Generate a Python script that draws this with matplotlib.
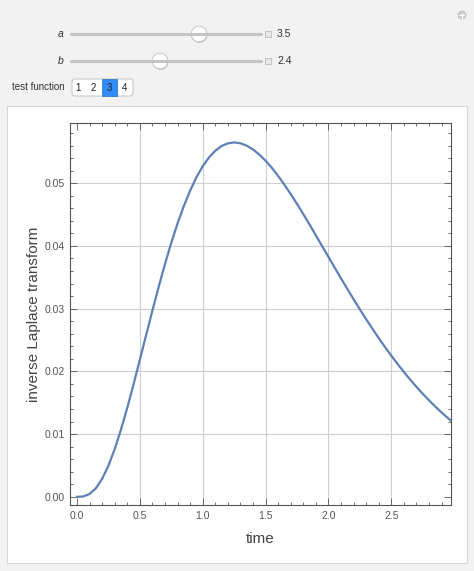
import matplotlib
matplotlib.use("Agg")
import matplotlib.pyplot as plt
from matplotlib.patches import Rectangle, FancyBboxPatch, Circle

plt.rcParams['font.family'] = ['Liberation Sans', 'DejaVu Sans']

# values
time = [0.0, 0.05, 0.1, 0.15, 0.2, 0.25, 0.3, 0.35, 0.4, 0.45, 0.5, 0.55, 0.6, 0.65,
        0.7, 0.75, 0.8, 0.85, 0.9, 0.95, 1.0, 1.05, 1.1, 1.15, 1.2, 1.25, 1.3, 1.35,
        1.4, 1.45, 1.5, 1.55, 1.6, 1.65, 1.7, 1.75, 1.8, 1.85, 1.9, 1.95, 2.0, 2.05,
        2.1, 2.15, 2.2, 2.25, 2.3, 2.35, 2.4, 2.45, 2.5, 2.55, 2.6, 2.65, 2.7, 2.75,
        2.8, 2.85, 2.9, 2.97]
inv_laplace = [0.0, 0.00006, 0.00046, 0.00137, 0.00288, 0.00498, 0.00764, 0.01075,
               0.01424, 0.01798, 0.0219, 0.02582, 0.02973, 0.03352, 0.03714, 0.04052,
               0.04361, 0.04639, 0.04883, 0.05096, 0.05271, 0.05411, 0.05518, 0.05593,
               0.05636, 0.0565, 0.05637, 0.05598, 0.05538, 0.05457, 0.05358, 0.05245,
               0.05115, 0.04975, 0.04826, 0.04671, 0.04507, 0.04341, 0.04169, 0.03997,
               0.03826, 0.03653, 0.03483, 0.03316, 0.0315, 0.02989, 0.02832, 0.0268,
               0.02531, 0.02388, 0.0225, 0.02118, 0.01991, 0.01869, 0.01754, 0.01643,
               0.01539, 0.01439, 0.01345, 0.01221]
x_ticks = [0.0, 0.5, 1.0, 1.5, 2.0, 2.5]
y_ticks = [0.00, 0.01, 0.02, 0.03, 0.04, 0.05]
a_val, b_val = 3.5, 2.4
buttons = ['1', '2', '3', '4']
selected = '3'

W, H = 474, 571
fig = plt.figure(figsize=(W / 100, H / 100), dpi=100)
fig.patch.set_facecolor('#f2f2f2')

# overlay in pixel coordinates for the control panel
ui = fig.add_axes([0, 0, 1, 1])
ui.set_xlim(0, W)
ui.set_ylim(H, 0)
ui.axis('off')

ui.add_patch(Rectangle((7, 106), 460, 457, facecolor='white', edgecolor='#d6d6d6', lw=0.8))

# sliders
for lab, yy, kx, val in [('a', 34, 199, a_val), ('b', 61, 160, b_val)]:
    ui.text(61, yy, lab, style='italic', fontsize=7.5, ha='center', va='center', color='#333333')
    ui.plot([71, 261], [yy, yy], color='#c4c4c4', lw=2.2, solid_capstyle='round')
    ui.add_patch(Circle((kx + 0.6, yy + 1), 8, facecolor='#cfcfcf', edgecolor='none'))
    ui.add_patch(Circle((kx, yy), 7.8, facecolor='white', edgecolor='#c0c0c0', lw=0.6))
    ui.add_patch(Rectangle((265, yy - 3), 6, 6, facecolor='#e8e8e8', edgecolor='#b0b0b0', lw=0.5))
    ui.text(277, yy, str(val), fontsize=7.5, ha='left', va='center', color='#333333')

ui.text(12, 87, 'test function', fontsize=7, ha='left', va='center', color='#333333')
ui.add_patch(FancyBboxPatch((72, 79), 61, 17, boxstyle='round,pad=0,rounding_size=3',
                            facecolor='white', edgecolor='#c4c4c4', lw=0.7))
for i, bt in enumerate(buttons):
    cx = 78 + i * 15.5
    if bt == selected:
        ui.add_patch(Rectangle((cx - 7, 79), 15, 17, facecolor='#2f8df5', edgecolor='#1f6fd0', lw=0.5))
    ui.text(cx, 88, bt, fontsize=7, ha='center', va='center', color='#222222')

ui.add_patch(Circle((462, 15), 4.5, facecolor='#c8c8c8', edgecolor='none'))
ui.plot([459.5, 464.5], [15, 15], color='white', lw=0.9)
ui.plot([462, 462], [12.5, 17.5], color='white', lw=0.9)

# plot
ax = fig.add_axes([70 / W, 1 - 505 / H, 381 / W, 382 / H])
ax.set_facecolor('white')
ax.plot(time, inv_laplace, color='#5e81b5', lw=1.6)
ax.set_xlim(-0.056, 2.975)
ax.set_ylim(-0.0013, 0.0596)
ax.set_xticks(x_ticks)
ax.set_yticks(y_ticks)
ax.set_xticklabels([f'{v:.1f}' for v in x_ticks])
ax.set_yticklabels([f'{v:.2f}' for v in y_ticks])
ax.set_xticks([i / 10 for i in range(30)], minor=True)
ax.set_yticks([i / 500 for i in range(30)], minor=True)
ax.tick_params(which='both', direction='in', top=True, right=True, colors='#555555',
               labelsize=7.5, width=0.6)
ax.tick_params(which='major', length=5, pad=4)
ax.tick_params(which='minor', length=2.5)
for s in ax.spines.values():
    s.set_color('#555555')
    s.set_linewidth(0.8)
for v in x_ticks[1:]:
    ax.axvline(v, color='#cfcfcf', lw=0.8, zorder=0)
for v in y_ticks[1:]:
    ax.axhline(v, color='#cfcfcf', lw=0.8, zorder=0)
ax.set_xlabel('time', fontsize=11, color='#444444', labelpad=8)
ax.set_ylabel('inverse Laplace transform', fontsize=11, color='#444444', labelpad=2)

fig.savefig('out.png', dpi=100)
